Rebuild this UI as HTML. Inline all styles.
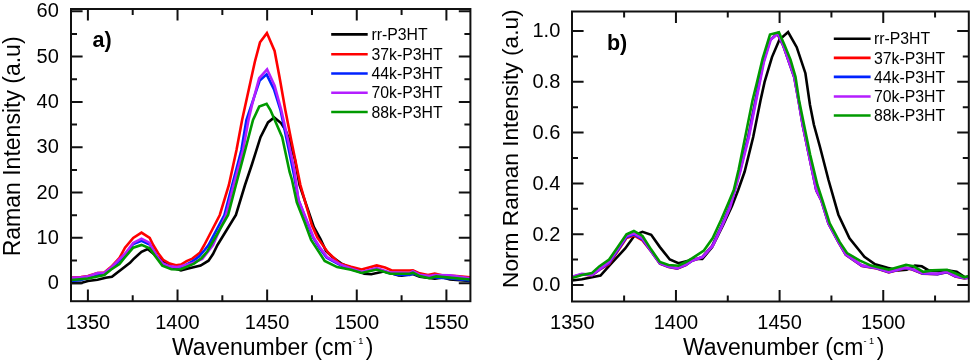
<!DOCTYPE html>
<html><head><meta charset="utf-8"><style>
html,body{margin:0;padding:0;background:#fff;}
svg{display:block;will-change:transform;}
text{font-family:"Liberation Sans",sans-serif;fill:#000;}
.tk{font-size:20px;}
.lg{font-size:15.8px;}
.ttl{font-size:23px;}
.pl{font-size:21.5px;font-weight:bold;}
polyline{fill:none;stroke-width:2.6;stroke-linejoin:miter;stroke-miterlimit:3;}
.ax{fill:none;stroke:#111;stroke-width:2;}
</style></head><body>
<svg width="973" height="364" viewBox="0 0 973 364">
<rect width="973" height="364" fill="#fff"/>
<g>
<polyline points="71.4,282.9 81.0,282.9 87.9,281.0 97.5,279.8 105.7,277.8 111.9,276.8 130.0,262.8 133.2,259.3 141.5,251.8 147.7,249.0 155.0,255.0 163.0,261.5 168.0,265.0 175.0,268.5 181.0,270.5 188.2,268.5 200.6,265.6 208.5,260.7 213.0,254.1 217.5,245.0 235.9,215.0 245.0,185.0 251.9,164.5 260.5,137.2 268.0,122.4 274.2,117.4 281.0,123.0 285.5,130.0 289.3,140.0 295.0,160.0 299.5,185.0 313.8,227.0 320.5,239.0 326.0,251.0 332.1,256.7 342.0,264.0 352.0,268.5 364.3,273.7 371.2,274.3 383.6,271.6 390.4,273.0 398.7,275.4 401.9,275.8 412.9,274.0 419.7,276.8 434.8,278.8 443.0,277.5 450.0,279.5 469.9,280.9" stroke="#000000"/>
<polyline points="71.4,277.5 81.0,277.0 87.9,276.0 97.5,273.0 104.3,272.5 111.2,266.8 119.5,257.9 125.0,247.7 133.2,238.0 141.5,232.6 149.7,238.0 153.2,245.0 158.2,253.2 163.1,259.8 169.7,263.6 176.0,265.2 181.0,264.5 186.6,261.1 192.4,258.6 199.8,252.8 204.3,245.0 219.8,215.0 228.9,185.0 236.5,150.0 242.1,120.0 254.8,62.0 260.0,42.3 266.9,33.1 274.6,50.9 279.5,76.9 285.3,110.0 291.2,140.0 300.4,185.0 311.8,225.0 317.3,237.4 327.8,252.2 339.6,263.4 351.0,266.8 361.6,269.5 376.7,265.4 385.0,267.5 391.8,270.5 409.7,270.5 412.9,270.3 419.7,273.4 428.0,275.0 434.8,273.6 443.0,275.4 456.8,276.1 469.9,277.2" stroke="#ff0000"/>
<polyline points="71.4,281.0 81.0,280.0 87.9,278.0 97.5,275.5 104.3,274.5 111.2,268.5 119.5,260.5 125.0,255.0 133.2,244.0 141.5,240.8 149.7,244.5 151.0,246.5 157.0,256.5 162.8,263.8 170.0,267.0 177.0,267.5 181.0,267.3 192.4,261.5 199.0,256.5 204.7,250.0 208.5,245.0 224.4,215.0 232.2,185.0 241.4,150.0 246.4,120.0 259.7,80.6 266.6,74.3 274.0,89.3 280.5,110.0 287.8,145.0 294.0,175.0 298.5,200.0 308.2,225.0 313.0,237.4 319.5,248.0 326.7,257.8 340.8,265.3 351.0,269.3 361.6,272.5 376.7,269.0 389.0,273.0 398.7,275.0 409.7,275.0 412.9,273.5 419.7,276.0 434.8,277.5 450.0,278.5 469.9,280.5" stroke="#0022ff"/>
<polyline points="71.4,277.8 81.0,277.4 87.9,276.4 97.5,273.0 104.3,272.7 111.2,267.5 119.5,259.2 125.0,253.8 133.2,242.9 141.5,238.7 149.7,242.9 150.5,245.5 156.5,255.7 162.3,263.1 169.7,266.4 177.0,267.0 181.0,266.3 193.0,263.0 202.3,259.0 213.0,245.0 226.0,215.0 233.6,185.0 243.1,150.0 248.5,120.0 252.0,105.0 259.2,78.2 267.1,69.3 274.6,85.6 281.3,110.0 288.0,140.0 294.3,170.0 298.5,200.0 308.7,225.0 313.6,237.4 320.0,247.5 327.2,257.2 340.8,264.6 351.0,268.5 361.6,271.9 376.7,268.2 389.0,272.3 409.7,273.0 412.9,271.3 419.7,274.7 429.3,276.1 434.8,275.0 450.0,275.4 469.9,278.2" stroke="#b41eff"/>
<polyline points="71.4,280.0 87.9,278.5 97.5,276.4 104.3,275.0 111.2,269.5 119.5,264.0 125.0,257.3 133.2,247.7 141.5,244.9 149.7,248.4 154.9,255.7 162.3,265.6 171.4,269.3 177.0,269.5 181.0,269.3 194.0,263.6 201.4,258.2 207.2,251.6 210.9,245.0 228.1,215.0 235.9,185.0 245.2,150.0 253.0,120.0 259.2,106.6 266.6,103.8 270.4,110.0 282.2,137.2 289.6,171.9 292.0,180.0 296.8,202.3 304.5,222.0 311.1,239.9 324.7,260.9 337.1,267.1 351.0,269.8 361.6,273.0 376.7,269.5 390.4,273.7 409.7,273.7 412.9,272.7 419.7,276.1 429.3,278.2 436.2,276.4 469.9,279.5" stroke="#009a00"/>
</g>
<rect class="ax" x="71.0" y="9.0" width="399.4" height="292.2"/>
<path class="ax" d="M87.90 9.00V20.60M87.90 301.20V289.60M177.53 9.00V20.60M177.53 301.20V289.60M267.15 9.00V20.60M267.15 301.20V289.60M356.77 9.00V20.60M356.77 301.20V289.60M446.40 9.00V20.60M446.40 301.20V289.60M132.71 9.00V15.00M132.71 301.20V295.20M222.34 9.00V15.00M222.34 301.20V295.20M311.96 9.00V15.00M311.96 301.20V295.20M401.59 9.00V15.00M401.59 301.20V295.20M71.00 283.20H82.60M470.40 283.20H458.80M71.00 237.87H82.60M470.40 237.87H458.80M71.00 192.54H82.60M470.40 192.54H458.80M71.00 147.21H82.60M470.40 147.21H458.80M71.00 101.88H82.60M470.40 101.88H458.80M71.00 56.55H82.60M470.40 56.55H458.80M71.00 11.22H82.60M470.40 11.22H458.80M71.00 260.53H77.00M470.40 260.53H464.40M71.00 215.20H77.00M470.40 215.20H464.40M71.00 169.88H77.00M470.40 169.88H464.40M71.00 124.54H77.00M470.40 124.54H464.40M71.00 79.21H77.00M470.40 79.21H464.40M71.00 33.88H77.00M470.40 33.88H464.40"/>
<text x="58.8" y="289.2" class="tk" text-anchor="end">0</text><text x="58.8" y="243.9" class="tk" text-anchor="end">10</text><text x="58.8" y="198.5" class="tk" text-anchor="end">20</text><text x="58.8" y="153.2" class="tk" text-anchor="end">30</text><text x="58.8" y="107.9" class="tk" text-anchor="end">40</text><text x="58.8" y="62.5" class="tk" text-anchor="end">50</text><text x="58.8" y="17.2" class="tk" text-anchor="end">60</text>
<text x="87.9" y="329.2" class="tk" text-anchor="middle">1350</text><text x="177.5" y="329.2" class="tk" text-anchor="middle">1400</text><text x="267.1" y="329.2" class="tk" text-anchor="middle">1450</text><text x="356.8" y="329.2" class="tk" text-anchor="middle">1500</text><text x="446.4" y="329.2" class="tk" text-anchor="middle">1550</text>
<text class="ttl" transform="translate(20.2,256.3) rotate(-90)">Raman Intensity (a.u)</text>
<text class="ttl" x="172" y="355.2">Wavenumber (cm<tspan font-size="9.2" dy="-11.6" letter-spacing="2.5">-1</tspan><tspan dy="11.6">)</tspan></text>
<text class="pl" x="92.5" y="47.3">a)</text>
<line x1="331.2" y1="34.4" x2="367.7" y2="34.4" stroke="#000000" stroke-width="2.6"/>
<text x="371.5" y="40.0" class="lg">rr-P3HT</text>
<line x1="331.2" y1="54.2" x2="367.7" y2="54.2" stroke="#ff0000" stroke-width="2.6"/>
<text x="371.5" y="59.8" class="lg">37k-P3HT</text>
<line x1="331.2" y1="73.5" x2="367.7" y2="73.5" stroke="#0022ff" stroke-width="2.6"/>
<text x="371.5" y="79.1" class="lg">44k-P3HT</text>
<line x1="331.2" y1="92.8" x2="367.7" y2="92.8" stroke="#b41eff" stroke-width="2.6"/>
<text x="371.5" y="98.4" class="lg">70k-P3HT</text>
<line x1="331.2" y1="112.0" x2="367.7" y2="112.0" stroke="#009a00" stroke-width="2.6"/>
<text x="371.5" y="117.6" class="lg">88k-P3HT</text>

<g>
<polyline points="572.0,280.5 581.9,279.3 600.5,275.6 611.6,263.2 625.2,248.4 635.1,234.8 642.5,231.8 651.2,234.8 659.9,247.1 669.8,259.5 678.4,263.2 688.3,260.7 692.0,259.0 702.3,259.0 712.2,247.0 723.3,224.7 732.0,206.1 738.2,190.0 744.6,171.8 753.2,137.0 760.6,100.0 764.6,81.9 772.0,57.1 779.4,39.8 788.1,32.1 796.7,47.2 805.4,73.2 810.0,105.0 813.9,124.8 820.0,147.0 828.5,180.0 838.4,214.7 849.5,238.2 864.4,256.7 875.1,264.2 887.5,267.7 898.5,270.4 906.7,269.7 914.9,265.6 921.8,266.3 928.7,270.4 940.0,271.1 947.1,270.4 956.7,271.8 965.0,277.3 969.0,276.6" stroke="#000000"/>
<polyline points="572.0,277.3 581.9,274.4 591.8,275.4 599.2,269.9 609.1,264.0 617.8,251.0 626.5,238.0 633.9,235.5 642.5,240.5 651.2,251.5 659.9,263.7 668.5,267.0 677.2,268.7 685.9,265.0 691.5,261.0 702.0,257.3 711.9,246.2 721.8,225.2 729.2,207.8 734.2,190.5 739.3,172.3 748.0,137.5 755.4,100.5 763.0,62.6 769.8,40.3 777.3,33.7 783.1,45.3 794.3,77.4 798.5,100.5 802.7,125.3 808.9,155.0 816.3,190.5 821.3,200.3 828.5,223.8 838.5,242.4 845.8,254.8 861.9,265.9 876.7,268.4 888.8,272.3 905.3,268.2 912.2,269.5 922.5,273.7 937.5,274.3 947.1,272.3 955.3,276.4 964.3,278.5 969.0,277.8" stroke="#ff0000"/>
<polyline points="572.0,277.1 581.9,274.2 591.8,275.2 599.2,269.7 609.1,263.0 617.8,250.0 626.5,237.0 633.9,234.5 642.5,239.5 651.2,251.3 659.9,263.5 668.5,266.8 677.2,268.5 685.9,264.8 691.8,260.8 702.3,257.1 712.2,246.0 722.1,225.0 729.5,207.6 734.5,190.3 739.6,172.1 748.3,137.3 755.7,100.3 763.3,62.4 770.1,40.1 777.6,33.5 783.1,45.1 794.3,77.2 798.5,100.3 802.7,125.1 808.9,154.8 816.3,190.3 821.3,200.1 828.5,223.6 838.5,242.2 845.8,254.6 861.9,265.7 876.7,268.2 888.8,272.1 905.3,268.0 912.2,269.3 922.5,273.5 937.5,274.1 947.1,272.1 955.3,276.2 964.3,278.3 969.0,277.6" stroke="#0022ff"/>
<polyline points="572.0,276.8 581.9,273.9 591.8,274.9 599.2,269.4 609.1,262.0 617.8,249.0 626.5,236.0 633.9,233.5 642.5,238.5 651.2,251.0 659.9,263.2 668.5,266.5 677.2,268.2 685.9,264.5 692.4,260.5 702.9,256.8 712.8,245.7 722.7,224.7 730.1,207.3 735.1,190.0 740.2,171.8 748.9,137.0 756.3,100.0 763.9,62.1 770.7,39.8 778.2,33.2 783.1,44.8 794.3,76.9 798.5,100.0 802.7,124.8 808.9,154.5 816.3,190.0 821.3,199.8 828.5,223.3 838.5,241.9 845.8,254.3 861.9,265.4 876.7,267.9 888.8,271.8 905.3,267.7 912.2,269.0 922.5,273.2 937.5,273.8 947.1,271.8 955.3,275.9 964.3,278.0 969.0,277.3" stroke="#b41eff"/>
<polyline points="572.0,278.0 581.9,274.9 591.8,273.1 599.2,266.4 609.1,259.5 617.8,247.1 626.5,234.3 633.9,231.0 642.5,236.0 651.2,249.6 659.9,262.0 668.5,265.0 678.4,265.7 685.9,262.0 692.4,258.1 703.9,250.6 712.6,238.3 721.2,219.7 728.6,202.4 733.8,190.0 738.7,169.3 745.2,137.1 752.6,100.0 756.5,84.4 762.7,58.4 770.0,34.5 778.9,32.2 784.4,44.8 790.5,59.6 795.5,76.9 799.0,100.0 804.0,124.8 810.1,154.5 817.4,185.0 822.3,199.8 829.7,223.3 839.6,241.9 847.0,253.0 859.4,260.4 871.0,265.6 888.8,269.7 906.0,264.9 913.6,266.3 923.2,271.8 932.0,270.4 947.1,269.7 955.3,273.2 964.3,277.3 969.0,275.9" stroke="#009a00"/>
</g>
<rect class="ax" x="572.0" y="11.5" width="396.79999999999995" height="290.0"/>
<path class="ax" d="M675.95 11.50V23.10M675.95 301.50V289.90M779.60 11.50V23.10M779.60 301.50V289.90M883.25 11.50V23.10M883.25 301.50V289.90M624.12 11.50V17.50M624.12 301.50V295.50M727.77 11.50V17.50M727.77 301.50V295.50M831.42 11.50V17.50M831.42 301.50V295.50M935.07 11.50V17.50M935.07 301.50V295.50M572.00 285.00H583.60M968.80 285.00H957.20M572.00 234.20H583.60M968.80 234.20H957.20M572.00 183.40H583.60M968.80 183.40H957.20M572.00 132.60H583.60M968.80 132.60H957.20M572.00 81.80H583.60M968.80 81.80H957.20M572.00 31.00H583.60M968.80 31.00H957.20M572.00 259.60H578.00M968.80 259.60H962.80M572.00 208.80H578.00M968.80 208.80H962.80M572.00 158.00H578.00M968.80 158.00H962.80M572.00 107.20H578.00M968.80 107.20H962.80M572.00 56.40H578.00M968.80 56.40H962.80"/>
<text x="560.3" y="291.3" class="tk" text-anchor="end">0.0</text><text x="560.3" y="240.5" class="tk" text-anchor="end">0.2</text><text x="560.3" y="189.7" class="tk" text-anchor="end">0.4</text><text x="560.3" y="138.9" class="tk" text-anchor="end">0.6</text><text x="560.3" y="88.1" class="tk" text-anchor="end">0.8</text><text x="560.3" y="37.3" class="tk" text-anchor="end">1.0</text>
<text x="572.3" y="329.2" class="tk" text-anchor="middle">1350</text><text x="675.9" y="329.2" class="tk" text-anchor="middle">1400</text><text x="779.6" y="329.2" class="tk" text-anchor="middle">1450</text><text x="883.2" y="329.2" class="tk" text-anchor="middle">1500</text>
<text class="ttl" style="font-size:22.7px" transform="translate(518,288) rotate(-90)">Norm Raman Intensity (a.u)</text>
<text class="ttl" x="682.9" y="355.2">Wavenumber (cm<tspan font-size="9.2" dy="-11.6" letter-spacing="2.5">-1</tspan><tspan dy="11.6">)</tspan></text>
<text class="pl" x="606.9" y="50.3">b)</text>
<line x1="833.8" y1="38.7" x2="870.6" y2="38.7" stroke="#000000" stroke-width="2.6"/>
<text x="874.0" y="44.3" class="lg">rr-P3HT</text>
<line x1="833.8" y1="57.9" x2="870.6" y2="57.9" stroke="#ff0000" stroke-width="2.6"/>
<text x="874.0" y="63.5" class="lg">37k-P3HT</text>
<line x1="833.8" y1="76.9" x2="870.6" y2="76.9" stroke="#0022ff" stroke-width="2.6"/>
<text x="874.0" y="82.5" class="lg">44k-P3HT</text>
<line x1="833.8" y1="96.5" x2="870.6" y2="96.5" stroke="#b41eff" stroke-width="2.6"/>
<text x="874.0" y="102.1" class="lg">70k-P3HT</text>
<line x1="833.8" y1="115.5" x2="870.6" y2="115.5" stroke="#009a00" stroke-width="2.6"/>
<text x="874.0" y="121.1" class="lg">88k-P3HT</text>
</svg>
</body></html>
